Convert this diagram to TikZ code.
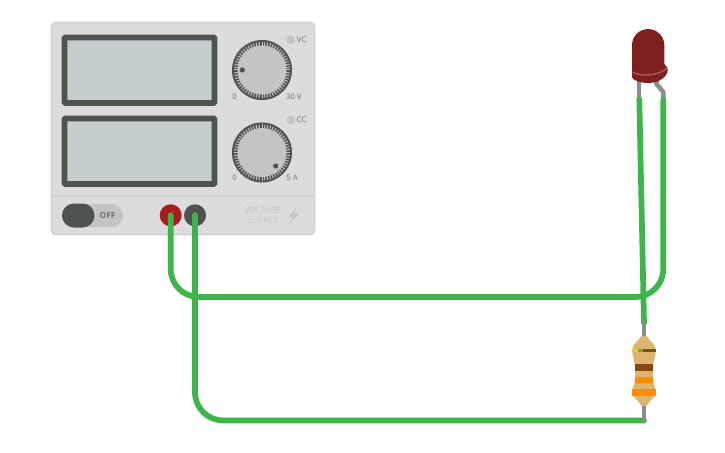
\documentclass[tikz,border=0pt]{standalone}
\usepackage{fontspec}
\setmainfont{Open Sans}
\usetikzlibrary{calc}
\definecolor{casegray}{HTML}{DCDCDC}
\definecolor{caseedge}{HTML}{D2D2D2}
\definecolor{darkpanel}{HTML}{4F5350}
\definecolor{lcdblue}{HTML}{C5CDCF}
\definecolor{knobgray}{HTML}{C4C4C4}
\definecolor{labelgray}{HTML}{6E6E6E}
\definecolor{wiregreen}{HTML}{3DB54A}
\definecolor{leggray}{HTML}{8C8C8C}
\definecolor{ledred}{HTML}{7F2020}
\definecolor{ledrim}{HTML}{A85555}
\definecolor{postred}{HTML}{A91C1C}
\definecolor{resbody}{HTML}{DDB56F}
\definecolor{bandbrown}{HTML}{8B4513}
\definecolor{bandorange}{HTML}{FF8C00}
\tikzset{
  lcd/.style={fill=lcdblue,draw=darkpanel,line width=4.2pt,rounded corners=0.6pt},
  lamp/.style={circle,fill=knobgray,draw=black!25,line width=0.4pt,minimum size=6pt,inner sep=0pt},
  post/.style={circle,minimum size=16.5pt,inner sep=0pt},
  tiny/.style={font=\fontsize{5.8}{6.5}\selectfont,text=labelgray,inner sep=0pt},
  wire/.style={draw=wiregreen,line width=4.3pt,line cap=round},
  leg/.style={draw=leggray,line width=3.4pt},
  knob/.pic={
    \fill[darkpanel] (0,0) circle (30);
    \foreach \a in {0,6,...,354}
      \draw[knobgray,line width=0.75pt] (\a:24) -- (\a:28);
    \fill[knobgray] (0,0) circle (24.5);
  }
}
\begin{document}
\begin{tikzpicture}[x=0.75pt,y=-0.75pt]
  \useasboundingbox (0,0) rectangle (725,453);

  % supply
  \filldraw[fill=casegray,draw=caseedge,line width=1.2pt,rounded corners=3pt] (51.5,22.5) rectangle (314.5,234.5);
  \draw[caseedge,line width=1.5pt] (52,196) -- (314,196);
  \draw[lcd] (64.5,37.5) rectangle (214.5,103);
  \draw[lcd] (64.5,118.5) rectangle (214.5,184);

  \pic at (262,70) {knob};
  \pic at (262,152.5) {knob};
  \fill[darkpanel] (242.3,70) circle (2.6);
  \fill[darkpanel] (275.7,166) circle (2.6);

  \node[lamp] (vclamp) at (290.7,39.7) {};
  \node[lamp] (cclamp) at (290.7,120) {};
  \node[tiny,anchor=west] (vctext) at (296.5,39.7) {VC};
  \node[tiny,anchor=west] (cctext) at (296.5,120) {CC};
  \node[tiny] (vzero) at (234.5,97) {0};
  \node[tiny] (vmax) at (294,97) {30 V};
  \node[tiny] (azero) at (234.5,178) {0};
  \node[tiny] (amax) at (292,178) {5 A};

  \fill[knobgray,rounded corners=8.5pt] (62,204) rectangle (123,227);
  \fill[darkpanel,rounded corners=8.9pt] (62,203.5) rectangle (94.5,227.5);
  \node[tiny,font=\fontsize{6.2}{7}\selectfont\bfseries] (offtext) at (107.5,216) {OFF};

  \node[post,fill=postred] (redpost) at (170.7,215.3) {};
  \node[post,fill=darkpanel] (blackpost) at (195,215.3) {};
  \node[tiny,text=knobgray,align=center,font=\fontsize{6.5}{7}\selectfont] (brand) at (262.5,215.5) {VOLTAGE\\SUPPLY};
  \fill[knobgray] (297,207) -- (288.5,217) -- (293,217) -- (289.5,224) -- (299,213.5) -- (294,213.5) -- cycle;

  % led
  \draw[leg] (639,78) -- (639,100);
  \draw[leg,line join=round] (656.5,80) -- (656.5,84) -- (663.3,92) -- (663.3,100);
  \fill[ledred] (632,72) -- (632,45.2) arc[start angle=180,end angle=360,radius=16.15] -- (664.3,72) -- cycle;
  \fill[ledred] (632,64) -- (664.3,64) .. controls (667,66) and (667.7,68) .. (667.7,70) .. controls (667.7,76) and (660,83) .. (648,83) .. controls (640,83) and (632,80) .. (632,77) -- cycle;
  \draw[ledrim,line width=1.1pt] (632.5,72) .. controls (640,76.5) and (658,76.5) .. (667,68);
  \coordinate (ledplus) at (639.3,99);
  \coordinate (ledminus) at (663.3,99.5);

  % resistor
  \coordinate (restop) at (644,323);
  \coordinate (resbot) at (644,420.4);
  \fill[resbody] (639,339) .. controls (640,336.5) and (642,335.5) .. (644,335.5) .. controls (646,335.5) and (648,336.5) .. (649,339) .. controls (650,341.5) and (655.7,343) .. (655.7,351) .. controls (655.7,358) and (653,360) .. (653,367) -- (653,378) .. controls (653,384) and (655.7,386) .. (655.7,392) .. controls (655.7,398) and (650,400) .. (648.5,403) .. controls (647.5,405.5) and (646,406.7) .. (644,406.7) .. controls (642,406.7) and (640.5,405.5) .. (639.5,403) .. controls (638,400) and (632.3,398) .. (632.3,392) .. controls (632.3,386) and (635,384) .. (635,378) -- (635,367) .. controls (635,360) and (632.3,358) .. (632.3,351) .. controls (632.3,343) and (638,341.5) .. (639,339) -- cycle;
  \fill[yellow!60!olive!80] (632.3,349) rectangle (638,351.5);
  \fill[olive!75!resbody] (638,349) rectangle (643,351.5);
  \fill[olive!60!black] (643,349) rectangle (655.5,351.5);
  \fill[bandbrown] (635,364.3) rectangle (653,371);
  \fill[bandorange] (635,376.7) rectangle (653,383.3);
  \fill[bandorange] (632.3,389.3) rectangle (655.7,395.7);

  % wires
  \coordinate (midtop) at (400,297);
  \coordinate (midbot) at (400,420.4);
  \draw[wire,rounded corners=21pt] (redpost.center) |- (midtop) -| (ledminus);
  \draw[wire,rounded corners=21pt] (blackpost.center) |- (midbot) -- (resbot);
  \draw[wire] (ledplus) -- (restop);
  \draw[leg] (644,322) -- (644,336);
  \draw[leg] (644,406) -- (644,422);
\end{tikzpicture}
\end{document}
